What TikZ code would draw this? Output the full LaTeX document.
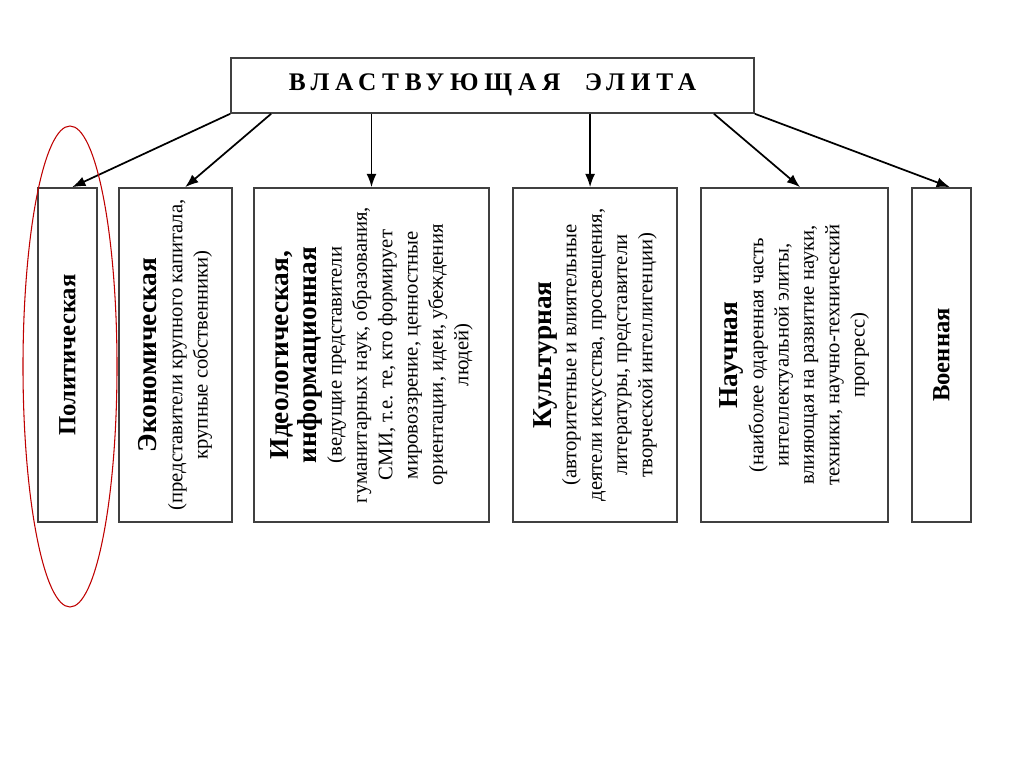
\documentclass[tikz,border=0pt]{standalone}
\usepackage{fontspec}
\setmainfont{Liberation Serif}
\usetikzlibrary{arrows.meta,calc}
\newcommand\hdfont{\fontsize{20.5}{23}\selectfont\bfseries}
\newcommand\hdsmall{\fontsize{18.5}{21}\selectfont\bfseries}
\tikzset{
  box/.style={draw=black!75, line width=1.2pt, fill=white, inner sep=0pt},
  arr/.style={line width=1.3pt, -{Latex[length=10pt,width=7.5pt]}},
  vlabel/.style={rotate=90, align=center, inner sep=0pt, font=\fontsize{15.5}{19}\selectfont},
}
\begin{document}
\begin{tikzpicture}[x=0.75pt,y=-0.75pt]
\useasboundingbox (0,0) rectangle (1024,767);
\fill[white] (0,0) rectangle (1024,767);
% top box
\node[box, minimum width=523*0.75pt, minimum height=55*0.75pt] (top) at (492.5,85.5) {};
\node[inner sep=0pt, font=\fontsize{19}{21}\selectfont\bfseries\addfontfeature{LetterSpace=23}] (title) at (492.5,84.5) {ВЛАСТВУЮЩАЯ\ \ ЭЛИТА};
% lower boxes
\node[box, minimum width=59*0.75pt, minimum height=334*0.75pt] (b1) at (67.5,355) {};
\node[box, minimum width=113*0.75pt, minimum height=334*0.75pt] (b2) at (175.5,355) {};
\node[box, minimum width=235*0.75pt, minimum height=334*0.75pt] (b3) at (371.5,355) {};
\node[box, minimum width=164*0.75pt, minimum height=334*0.75pt] (b4) at (595,355) {};
\node[box, minimum width=187*0.75pt, minimum height=334*0.75pt] (b5) at (794.5,355) {};
\node[box, minimum width=59*0.75pt, minimum height=334*0.75pt] (b6) at (941.5,355) {};
% labels
\node[vlabel] (t1) at (b1.center) {{\hdsmall Политическая}};
\node[vlabel] (t2) at (b2.center) {{\hdfont Экономическая}\\(представители крупного капитала,\\крупные собственники)};
\node[vlabel] (t3) at (b3.center) {{\hdfont Идеологическая,}\\[2pt]{\hdfont информационная}\\(ведущие представители\\гуманитарных наук, образования,\\СМИ, т.е. те, кто формирует\\мировоззрение, ценностные\\ориентации, идеи, убеждения\\людей)};
\node[vlabel] (t4) at (b4.center) {{\hdfont Культурная}\\(авторитетные и влиятельные\\деятели искусства, просвещения,\\литературы, представители\\творческой интеллигенции)};
\node[vlabel] (t5) at (b5.center) {{\hdfont Научная}\\(наиболее одаренная часть\\интеллектуальной элиты,\\влияющая на развитие науки,\\техники, научно-технический\\прогресс)};
\node[vlabel] (t6) at (b6.center) {{\hdsmall Военная}};
% arrow ends
\coordinate (s2) at ($(top.south west)!0.078!(top.south east)$);
\coordinate (s4) at ($(top.south west)!0.686!(top.south east)$);
\coordinate (s5) at ($(top.south west)!0.922!(top.south east)$);
\coordinate (e1) at ($(b1.north west)!0.576!(b1.north east)$);
\coordinate (e2) at ($(b2.north west)!0.584!(b2.north east)$);
\coordinate (e5) at ($(b5.north west)!0.53!(b5.north east)$);
\coordinate (e6) at ($(b6.north west)!0.64!(b6.north east)$);
% arrows
\draw[arr] (top.south west) -- (e1);
\draw[arr] (s2) -- (e2);
\draw[arr] (b3.north |- top.south) -- (b3.north);
\draw[arr] (s4) -- (s4 |- b4.north);
\draw[arr] (s5) -- (e5);
\draw[arr] (top.south east) -- (e6);
% red ellipse
\draw[red!75!black, line width=0.8pt] (70,366.5) ellipse [x radius=47, y radius=240.5];
\end{tikzpicture}
\end{document}
